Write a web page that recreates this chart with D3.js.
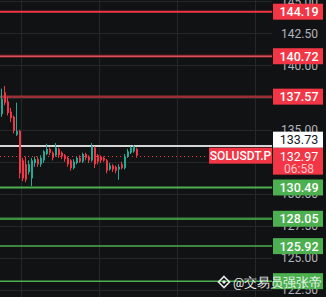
<!DOCTYPE html>
<html>
<head>
<meta charset="utf-8">
<script src="https://cdn.jsdelivr.net/npm/d3@7"></script>
<style>
  html, body { margin: 0; padding: 0; background: #111213; overflow: hidden; }
  svg { display: block; }
  text { font-family: Roboto, "Noto Sans", sans-serif; }
</style>
</head>
<body>
<svg width="326" height="297"></svg>
<script>
// candles (15m), price values
let opens  = [136.2, 137.9, 137.2, 136.4, 136.0, 134.6, 134.9, 132.6, 132.3, 131.7, 131.2, 132.4, 132.7, 132.3, 132.6, 133.1, 133.5, 133.2, 133.0, 133.5, 133.2, 133.0, 132.8, 132.6, 132.0, 132.4, 132.8, 132.5, 133.1, 132.9, 132.6, 133.6, 133.0, 132.9, 132.8, 132.6, 131.9, 132.2, 132.1, 131.9, 132.3, 132.0, 132.9, 133.2, 133.3, 133.5]
let closes = [137.4, 137.1, 136.3, 135.9, 134.9, 134.9, 131.6, 131.2, 131.1, 132.3, 132.6, 132.7, 132.3, 132.8, 133.3, 133.5, 133.2, 132.8, 133.6, 133.0, 132.9, 132.7, 132.3, 132.0, 132.5, 132.8, 132.5, 133.1, 132.8, 132.6, 133.7, 132.3, 132.5, 132.6, 132.6, 131.8, 132.2, 131.9, 131.8, 132.1, 132.0, 132.9, 133.3, 133.6, 133.7, 132.97]
let highs  = [138.2, 138.4, 137.5, 136.7, 136.1, 137.1, 135.0, 132.8, 132.9, 132.6, 132.8, 132.9, 132.9, 133.0, 133.4, 133.9, 133.6, 133.3, 133.95, 133.6, 133.3, 133.1, 132.9, 132.7, 132.7, 132.9, 133.0, 133.2, 133.2, 133.0, 133.95, 133.7, 133.1, 133.0, 132.9, 132.7, 132.4, 132.3, 132.2, 132.3, 132.5, 133.1, 133.5, 133.7, 133.8, 133.6]
let lows   = [136.0, 136.9, 136.1, 135.6, 134.7, 134.5, 131.2, 131.0, 130.9, 131.5, 130.6, 132.1, 132.1, 132.1, 132.4, 133.0, 133.0, 132.6, 132.9, 132.8, 132.7, 132.5, 132.1, 131.8, 131.9, 132.3, 132.4, 132.4, 132.6, 132.4, 132.5, 132.0, 132.3, 132.4, 132.5, 131.6, 131.8, 131.7, 131.6, 131.1, 131.9, 131.9, 132.8, 133.1, 133.2, 132.8]

// horizontal levels drawn on the chart
let redLevels = [144.19, 140.72, 137.57]
let greenLevels = [130.49, 128.05, 125.92, 123.19]
let resistance = 133.73
let lastPrice = 132.97
let countdown = '06:58'
let symbol = 'SOLUSDT.P'
let priceTicks = [145.0, 142.5, 140.0, 137.5, 135.0, 132.5, 130.0, 127.5, 125.0, 122.5]
let timeGrid = [6.57, 32.57, 58.57, 84.57] // in candle index units
let watermark = '@交易员强张帝'

let candles = opens.map((o, i) => ({ i: i, o: o, c: closes[i], h: highs[i], l: lows[i] }))

let width = 326
let height = 297
let plotRight = 272

let x = d3.scaleLinear().domain([0, 45]).range([1, 136])
let y = d3.scaleLinear().domain([122.5, 145]).range([290, 1.3])

const UP = '#22ab94'
const DOWN = '#f23645'
const RED = '#f23645'
const GREEN = '#4caf50'

const svg = d3.select('svg')

svg.append('rect').attr('width', width).attr('height', height).attr('fill', '#111213')

// grid
let grid = svg.append('g').attr('stroke', '#262728').attr('stroke-width', 1)
grid.selectAll('line.h')
  .data(priceTicks)
  .enter()
  .append('line')
  .attr('x1', 0)
  .attr('x2', plotRight)
  .attr('y1', d => Math.round(y(d)) + 0.5)
  .attr('y2', d => Math.round(y(d)) + 0.5)
grid.selectAll('line.v')
  .data(timeGrid)
  .enter()
  .append('line')
  .attr('x1', d => Math.round(x(d)) + 0.5)
  .attr('x2', d => Math.round(x(d)) + 0.5)
  .attr('y1', 0)
  .attr('y2', height)

// price axis labels
svg.append('g')
  .selectAll('text')
  .data(priceTicks)
  .enter()
  .append('text')
  .attr('x', 318)
  .attr('y', d => y(d))
  .attr('dy', '0.35em')
  .attr('text-anchor', 'end')
  .attr('fill', '#b2b5be')
  .attr('font-size', 12)
  .text(d => d.toFixed(2))

// level lines
let levelStyle = {
  144.19: [{ c: RED, w: 2 }],
  140.72: [{ c: '#5c161c', w: 3.5 }, { c: '#d0535d', w: 1.5 }],
  137.57: [{ c: '#9a2f37', w: 2.5 }],
  130.49: [{ c: GREEN, w: 2 }],
  128.05: [{ c: '#3e8e42', w: 2.5 }],
  125.92: [{ c: GREEN, w: 1.5 }],
  123.19: [{ c: GREEN, w: 1.5 }]
}
let levels = redLevels.concat(greenLevels)
let lines = svg.append('g')
levels.forEach(v => {
  levelStyle[v].forEach(s => {
    lines.append('line')
      .attr('x1', 0)
      .attr('x2', plotRight)
      .attr('y1', y(v))
      .attr('y2', y(v))
      .attr('stroke', s.c)
      .attr('stroke-width', s.w)
  })
})
lines.append('line')
  .attr('x1', 0)
  .attr('x2', plotRight)
  .attr('y1', y(resistance))
  .attr('y2', y(resistance))
  .attr('stroke', '#d6d6d6')
  .attr('stroke-width', 2)

// last price dotted line
svg.append('line')
  .attr('x1', 0)
  .attr('x2', 208)
  .attr('y1', Math.round(y(lastPrice)) + 0.5)
  .attr('y2', Math.round(y(lastPrice)) + 0.5)
  .attr('stroke', RED)
  .attr('stroke-width', 1)
  .attr('stroke-dasharray', '1,3')

// candles
let cg = svg.append('g')
cg.selectAll('line.wick')
  .data(candles)
  .enter()
  .append('line')
  .attr('x1', d => Math.round(x(d.i)) + 0.5)
  .attr('x2', d => Math.round(x(d.i)) + 0.5)
  .attr('y1', d => y(d.h))
  .attr('y2', d => y(d.l))
  .attr('stroke', d => (d.c >= d.o ? UP : DOWN))
  .attr('stroke-width', 1)
cg.selectAll('rect')
  .data(candles)
  .enter()
  .append('rect')
  .attr('x', d => Math.round(x(d.i)))
  .attr('width', 2)
  .attr('y', d => y(Math.max(d.o, d.c)))
  .attr('height', d => Math.max(1, Math.abs(y(d.o) - y(d.c))))
  .attr('fill', d => (d.c >= d.o ? UP : DOWN))

// price label boxes
let boxX = 273
let boxW = 50
let labelColor = {
  144.19: RED, 140.72: RED, 137.57: RED,
  130.49: GREEN, 128.05: GREEN, 125.92: GREEN, 123.19: GREEN
}
let boxes = svg.append('g')
levels.forEach(v => {
  let cy = y(v)
  boxes.append('rect')
    .attr('x', boxX)
    .attr('y', cy - 8)
    .attr('width', boxW)
    .attr('height', 16)
    .attr('fill', labelColor[v])
  if (v !== 123.19) {
    boxes.append('text')
      .attr('x', boxX + boxW / 2 + 1)
      .attr('y', cy)
      .attr('dy', '0.36em')
      .attr('text-anchor', 'middle')
      .attr('fill', '#ffffff')
      .attr('font-size', 12.5)
      .attr('font-weight', 500)
      .text(v.toFixed(2))
  }
})

// last price box (two lines) and resistance box pushed above it
let lastTop = y(lastPrice) - 8
boxes.append('rect')
  .attr('x', boxX).attr('y', lastTop)
  .attr('width', boxW).attr('height', 27)
  .attr('fill', RED)
boxes.append('text')
  .attr('x', boxX + boxW / 2 + 1).attr('y', lastTop + 9)
  .attr('dy', '0.36em')
  .attr('text-anchor', 'middle')
  .attr('fill', '#ffffff')
  .attr('font-size', 12.5)
  .text(lastPrice.toFixed(2))
boxes.append('text')
  .attr('x', boxX + boxW / 2 + 1).attr('y', lastTop + 21)
  .attr('dy', '0.36em')
  .attr('text-anchor', 'middle')
  .attr('fill', '#ffc4c9')
  .attr('font-size', 12)
  .text(countdown)

boxes.append('rect')
  .attr('x', 209).attr('y', lastTop)
  .attr('width', 63).attr('height', 16)
  .attr('fill', RED)
boxes.append('text')
  .attr('x', 240.5).attr('y', lastTop + 8)
  .attr('dy', '0.36em')
  .attr('text-anchor', 'middle')
  .attr('fill', '#ffffff')
  .attr('font-size', 12)
  .attr('font-weight', 500)
  .text(symbol)

let resTop = Math.min(y(resistance) - 8, lastTop - 16)
boxes.append('rect')
  .attr('x', boxX).attr('y', resTop)
  .attr('width', boxW).attr('height', 16)
  .attr('fill', '#ffffff')
boxes.append('text')
  .attr('x', boxX + boxW / 2 + 1).attr('y', resTop + 8)
  .attr('dy', '0.36em')
  .attr('text-anchor', 'middle')
  .attr('fill', '#131722')
  .attr('font-size', 12.5)
  .text(resistance.toFixed(2))

// watermark
let wm = svg.append('g').attr('opacity', 0.9)
let lx = 224, ly = 282
wm.append('path')
  .attr('d', `M${lx},${ly - 5.5} L${lx + 5.5},${ly} L${lx},${ly + 5.5} L${lx - 5.5},${ly} Z`)
  .attr('fill', 'none')
  .attr('stroke', '#ffffff')
  .attr('stroke-width', 1.6)
wm.append('path')
  .attr('d', `M${lx},${ly - 2} L${lx + 2},${ly} L${lx},${ly + 2} L${lx - 2},${ly} Z`)
  .attr('fill', '#ffffff')
wm.append('text')
  .attr('x', 233)
  .attr('y', ly)
  .attr('dy', '0.36em')
  .attr('fill', '#ffffff')
  .attr('font-size', 12.5)
  .attr('font-family', '"Noto Sans CJK SC", sans-serif')
  .text(watermark)
</script>
</body>
</html>
